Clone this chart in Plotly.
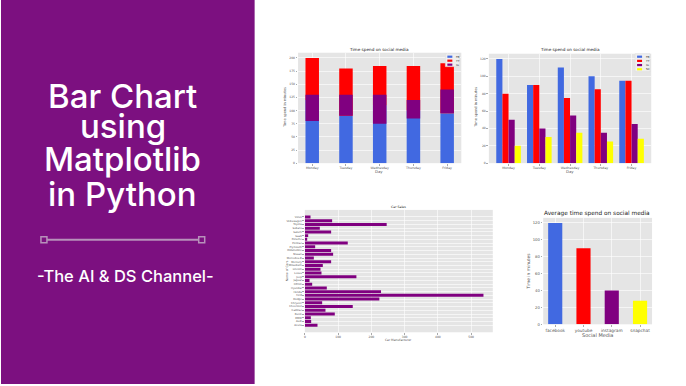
import plotly.graph_objects as go

W, H = 686, 386

# ---------------- data ----------------
days = ["Monday", "Tuesday", "Wednesday", "Thursday", "Friday"]
fb = [120, 90, 110, 100, 95]
yt = [80, 90, 75, 85, 95]
ig = [50, 40, 55, 35, 45]
sc = [20, 30, 35, 25, 28]

media = ["facebook", "youtube", "instagram", "snapchat"]
avg_time = [120, 90, 40, 28]

car_makers = ["Acura", "Audi", "BMW", "Buick", "Cadillac", "Chevrolet", "Chrysler",
              "Dodge", "Ford", "Honda", "Hyundai", "Infiniti", "Jaguar", "Jeep",
              "Lexus", "Lincoln", "Mitsubishi", "Mercury", "Mercedes-B", "Nissan",
              "Oldsmobile", "Plymouth", "Pontiac", "Porsche", "Saab", "Saturn",
              "Subaru", "Toyota", "Volkswagen", "Volvo"]
car_sales = [38, 19, 18, 90, 62, 144, 52, 224, 537, 229, 66, 22, 14, 155, 50, 47,
             54, 79, 27, 85, 79, 31, 129, 7, 10, 79, 45, 246, 82, 17]

series_names = ["FB", "YT", "IG", "SC"]
BLUE, RED, PURPLE, YELLOW = "#4169E1", "#FF0000", "#800080", "#FFFF00"
series_colors = [BLUE, RED, PURPLE, YELLOW]

PANEL = "#7C1080"
DECOR = "#B791BA"
FONT = "DejaVu Sans"
TITLE_FONT = "Inter"
TICK = "#555555"
BG = "#E5E5E5"


def px(x):
    return x / W


def py(y):
    return 1 - y / H


def dom_x(a, b):
    return [a / W, b / W]


def dom_y(top, bottom):
    return [1 - bottom / H, 1 - top / H]


fig = go.Figure()

# chart 1: overlapping "stacked" bars
fig.add_trace(go.Bar(x=days, y=fb, base=[0] * len(fb), width=0.4, marker_color=BLUE,
                     marker_line_width=0, name="FB", xaxis="x", yaxis="y"))
fig.add_trace(go.Bar(x=days, y=yt, base=fb, width=0.4, marker_color=RED,
                     marker_line_width=0, name="YT", xaxis="x", yaxis="y"))
fig.add_trace(go.Bar(x=days, y=ig, base=yt, width=0.4, marker_color=PURPLE,
                     marker_line_width=0, name="IG", xaxis="x", yaxis="y"))

# chart 2: grouped bars
for k, (vals, col, nm) in enumerate(zip([fb, yt, ig, sc], series_colors, series_names)):
    fig.add_trace(go.Bar(x=days, y=vals, width=0.2, offset=-0.4 + 0.2 * k,
                         marker_color=col, marker_line_width=0, name=nm,
                         xaxis="x2", yaxis="y2"))

# chart 3: horizontal bars
fig.add_trace(go.Bar(x=car_sales, y=car_makers, orientation="h", width=0.8,
                     marker_color=PURPLE, marker_line_width=0, name="Cars",
                     xaxis="x3", yaxis="y3"))

# chart 4: simple bars
fig.add_trace(go.Bar(x=media, y=avg_time, width=0.5, marker_color=series_colors,
                     marker_line_width=0, name="avg", xaxis="x4", yaxis="y4"))


def axis(domain, rng, anchor, fs, dtick=None):
    d = dict(domain=domain, range=rng, anchor=anchor, showgrid=True,
             gridcolor="white", gridwidth=0.6, zeroline=False, showline=False,
             ticks="outside", ticklen=1.5, tickwidth=0.5, tickcolor=TICK,
             tickfont=dict(family=FONT, size=fs, color=TICK), fixedrange=True)
    if dtick is not None:
        d["dtick"] = dtick
    return d


fig.update_layout(
    width=W, height=H, margin=dict(l=0, r=0, t=0, b=0),
    paper_bgcolor="white", plot_bgcolor=BG, barmode="overlay", showlegend=False,
    xaxis=axis(dom_x(297.5, 461), [-0.42, 4.42], "y", 3.2),
    yaxis=axis(dom_y(53, 164), [0, 210], "x", 3.0, dtick=25),
    xaxis2=axis(dom_x(488.6, 651.2), [-0.64, 4.64], "y2", 3.2),
    yaxis2=axis(dom_y(54, 164), [0, 126], "x2", 3.0, dtick=20),
    xaxis3=axis(dom_x(304.3, 492.5), [0, 565], "y3", 3.0, dtick=100),
    yaxis3=axis(dom_y(211, 334), [-1.89, 30.89], "x3", 2.6, dtick=1),
    xaxis4=axis(dom_x(543, 652), [-0.425, 3.425], "y4", 4.3),
    yaxis4=axis(dom_y(219, 326), [0, 126], "x4", 3.8, dtick=20),
)

shapes = []
annotations = []

# left purple panel
shapes.append(dict(type="rect", xref="paper", yref="paper", x0=0, x1=px(254), y0=0, y1=1,
                   fillcolor=PANEL, line_width=0, layer="below"))
# decorative line with end squares
shapes.append(dict(type="line", xref="paper", yref="paper", x0=px(43), x1=px(201),
                   y0=py(241), y1=py(241), line=dict(color=DECOR, width=2)))
for cx in (43, 201):
    shapes.append(dict(type="rect", xref="paper", yref="paper", x0=px(cx - 3), x1=px(cx + 3),
                       y0=py(244), y1=py(238), fillcolor=PANEL,
                       line=dict(color=DECOR, width=1.5)))

title_lines = [("Bar Chart", 96), ("using", 127), ("Matplotlib", 160), ("in Python", 195)]
for txt, yc in title_lines:
    annotations.append(dict(text=txt, xref="paper", yref="paper", x=px(122), y=py(yc),
                            xanchor="center", yanchor="middle", showarrow=False,
                            font=dict(family=TITLE_FONT, size=33, color="white",
                                      weight=500)))
annotations.append(dict(text="-The AI &amp; DS Channel-", xref="paper", yref="paper",
                        x=px(125), y=py(277), xanchor="center", yanchor="middle",
                        showarrow=False,
                        font=dict(family=TITLE_FONT, size=16.5, color="white",
                                  weight=500)))


def label(txt, x, y, size, color=TICK, angle=0):
    annotations.append(dict(text=txt, xref="paper", yref="paper", x=px(x), y=py(y),
                            xanchor="center", yanchor="middle", showarrow=False,
                            textangle=angle,
                            font=dict(family=FONT, size=size, color=color)))


# chart titles / axis labels
label("Time spend on social media", 379, 49.5, 4.2, "#222222")
label("Day", 379, 172, 3.8)
label("Time spend in minutes", 285, 108, 3.5, angle=-90)

label("Time spend on social media", 570, 50, 4.2, "#222222")
label("Day", 570, 172, 3.8)
label("Time spend in minutes", 476, 108, 3.5, angle=-90)

label("Car Sales", 398, 208, 3.2, "#222222")
label("Car Manufacturer", 398, 342, 3.0)
label("Name of Cars", 286, 272, 3.0, angle=-90)

label("Average time spend on social media", 597, 215, 5.8, "#222222")
label("Social Media", 597, 337, 5.0)
label("Time in minutes", 528, 273, 4.4, angle=-90)


# small legends drawn as shapes + text
def legend(x_sw, y_top, dy, names, colors, box):
    bx0, by0, bx1, by1 = box
    shapes.append(dict(type="rect", xref="paper", yref="paper", x0=px(bx0), x1=px(bx1),
                       y0=py(by1), y1=py(by0), fillcolor="#EFEFEF",
                       line=dict(color="#DDDDDD", width=0.5)))
    for i, (nm, col) in enumerate(zip(names, colors)):
        yc = y_top + i * dy
        shapes.append(dict(type="rect", xref="paper", yref="paper", x0=px(x_sw),
                           x1=px(x_sw + 5), y0=py(yc + 1.1), y1=py(yc - 1.1),
                           fillcolor=col, line_width=0))
        annotations.append(dict(text=nm, xref="paper", yref="paper", x=px(x_sw + 6.5),
                                y=py(yc), xanchor="left", yanchor="middle",
                                showarrow=False,
                                font=dict(family=FONT, size=2.8, color="#333333")))


legend(447, 57, 4.0, series_names[:3], series_colors[:3], (445, 54, 459, 67))
legend(637, 57, 4.2, series_names, series_colors, (635, 54, 650, 72))

fig.update_layout(shapes=shapes, annotations=annotations)

fig.write_html("out.html",
               config={"displayModeBar": False, "staticPlot": True},
               post_script="document.body.style.margin='0';"
                           "document.body.style.overflow='hidden';")
